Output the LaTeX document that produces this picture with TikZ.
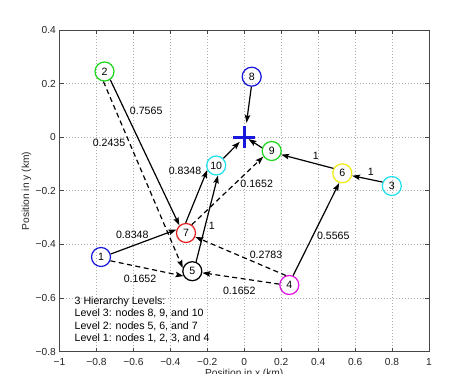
\documentclass[tikz,border=0pt]{standalone}
\usepackage{fontspec}
\setmainfont{Liberation Sans}
\usetikzlibrary{arrows.meta}
\definecolor{mgreen}{RGB}{30,215,30}
\definecolor{mblue}{RGB}{25,25,220}
\definecolor{mcyan}{RGB}{30,225,235}
\definecolor{myellow}{RGB}{240,235,20}
\definecolor{mred}{RGB}{230,30,30}
\definecolor{mmagenta}{RGB}{225,20,225}
\definecolor{axisc}{RGB}{70,70,70}
\definecolor{gridc}{RGB}{175,175,175}
\begin{document}
\begin{tikzpicture}[x=1pt,y=-1pt,
  font=\fontsize{10.6}{12.5}\selectfont,
  nd/.style={circle, draw, line width=1.25pt, minimum size=19pt, inner sep=0pt},
  arr/.style={line width=1.2pt, -{Stealth[length=8pt,width=5.5pt,inset=1.5pt]}},
  dsh/.style={arr, dash pattern=on 5pt off 3.5pt},
  lbl/.style={inner sep=0pt},
  ticklbl/.style={inner sep=0pt, text=black!85, font=\fontsize{10.2}{12}\selectfont},
  gridl/.style={gridc, dash pattern=on 1pt off 2pt, line width=0.6pt},
  tick/.style={axisc, line width=0.7pt}]
\useasboundingbox (0,0) rectangle (474,374);
\fill[white] (0,0) rectangle (474,374);
% grid
\foreach \x in {96.45,133.4,170.35,207.3,244.25,281.2,318.15,355.1,392.05}
  \draw[gridl] (\x,30) -- (\x,351.6);
\foreach \y in {83.6,137.2,190.8,244.4,298}
  \draw[gridl] (59.5,\y) -- (429,\y);
% ticks
\foreach \x in {59.5,96.45,133.4,170.35,207.3,244.25,281.2,318.15,355.1,392.05,429}{
  \draw[tick] (\x,351.6) -- (\x,347.6);
  \draw[tick] (\x,30) -- (\x,34);}
\foreach \y in {30,83.6,137.2,190.8,244.4,298,351.6}{
  \draw[tick] (59.5,\y) -- (63.5,\y);
  \draw[tick] (429,\y) -- (425,\y);}
\draw[axisc, line width=0.8pt] (59.5,30) rectangle (429,351.6);
% tick labels
\foreach \x/\t in {59.5/−1,96.45/−0.8,133.4/−0.6,170.35/−0.4,207.3/−0.2,244.25/0,281.2/0.2,318.15/0.4,355.1/0.6,392.05/0.8,429/1}
  \node[ticklbl] at (\x,361.5) {\t};
\foreach \y/\t in {30/0.4,83.6/0.2,137.2/0,190.8/−0.2,244.4/−0.4,298/−0.6,351.6/−0.8}
  \node[ticklbl, anchor=east] at (56,\y) {\t};
\node[ticklbl, rotate=90] (ylab) at (26.5,191) {Position in y (km)};
\node[ticklbl, anchor=north] (xlab) at (244.25,368.5) {Position in x (km)};
% nodes
\node[nd, draw=mblue]    (n1)  at (101,257)     {1};
\node[nd, draw=mgreen]   (n2)  at (104.5,71.5)  {2};
\node[nd, draw=mcyan]    (n3)  at (391.8,186)   {3};
\node[nd, draw=mmagenta] (n4)  at (289.3,285)   {4};
\node[nd, draw=black]    (n5)  at (192.3,271.2) {5};
\node[nd, draw=myellow]  (n6)  at (342.3,173.3) {6};
\node[nd, draw=mred]     (n7)  at (186,233)     {7};
\node[nd, draw=mblue]    (n8)  at (251.7,76.7)  {8};
\node[nd, draw=mgreen]   (n9)  at (271.7,151)   {9};
\node[nd, draw=mcyan]    (n10) at (216.2,165.5) {10};
% base station
\coordinate (bs) at (244.3,137.3);
\draw[mblue, line width=2.6pt] ([shift={(-11,0)}]bs) -- ([shift={(11,0)}]bs);
\draw[mblue, line width=2.6pt] ([shift={(0,-11)}]bs) -- ([shift={(0,11)}]bs);
\coordinate (tW) at ([shift={(-4.5,4.5)}]bs);
\coordinate (tE) at ([shift={(4.2,1.8)}]bs);
\coordinate (tN) at ([shift={(2.2,-14.5)}]bs);
% edges
\draw[arr] (n2.-55) -- (n7.131);
\draw[dsh] (n2.-96) -- (n5.161);
\draw[arr] (n1.17) -- (n7.160);
\draw[dsh] (n1.-22) -- (n5.-151);
\draw[arr] (n7.92) -- (n10.207);
\draw[dsh] (n7.55) -- (n9.214);
\draw[arr] (n5.68) -- (n10.-80);
\draw[dsh] (n4.110) -- (n7.-23);
\draw[dsh] (n4.175) -- (n5.-9);
\draw[arr] (n4.68) -- (n6.-108);
\draw[arr] (n3.157) -- (n6.-14);
\draw[arr] (n6.151) -- (n9.-21);
\draw[arr] (n10.45) -- (tW);
\draw[arr] (n9.162) -- (tE);
\draw[arr] (n8.-92) -- (tN);
% edge labels
\node[lbl] (l27)  at (146.2,110.7) {0.7565};
\node[lbl] (l25)  at (109,142.7)   {0.2435};
\node[lbl] (l17)  at (132.3,235)   {0.8348};
\node[lbl] (l15)  at (140,279.3)   {0.1652};
\node[lbl] (l710) at (185,170.7)   {0.8348};
\node[lbl] (l79)  at (256.7,184.3) {0.1652};
\node[lbl] (l510) at (211.7,226)   {1};
\node[lbl] (l47)  at (266,255)     {0.2783};
\node[lbl] (l45)  at (239.3,291)   {0.1652};
\node[lbl] (l46)  at (333.3,235.7) {0.5565};
\node[lbl] (l36)  at (370.7,172.3) {1};
\node[lbl] (l69)  at (315.7,155.7) {1};
% legend text
\node[lbl, anchor=base west] (t1) at (74.5,304.3) {3 Hierarchy Levels:};
\node[lbl, anchor=base west] (t2) at (74.5,316.8) {Level 3: nodes 8, 9, and 10};
\node[lbl, anchor=base west] (t3) at (74.5,329.2) {Level 2: nodes 5, 6, and 7};
\node[lbl, anchor=base west] (t4) at (74.5,341.5) {Level 1: nodes 1, 2, 3, and 4};
\end{tikzpicture}
\end{document}
